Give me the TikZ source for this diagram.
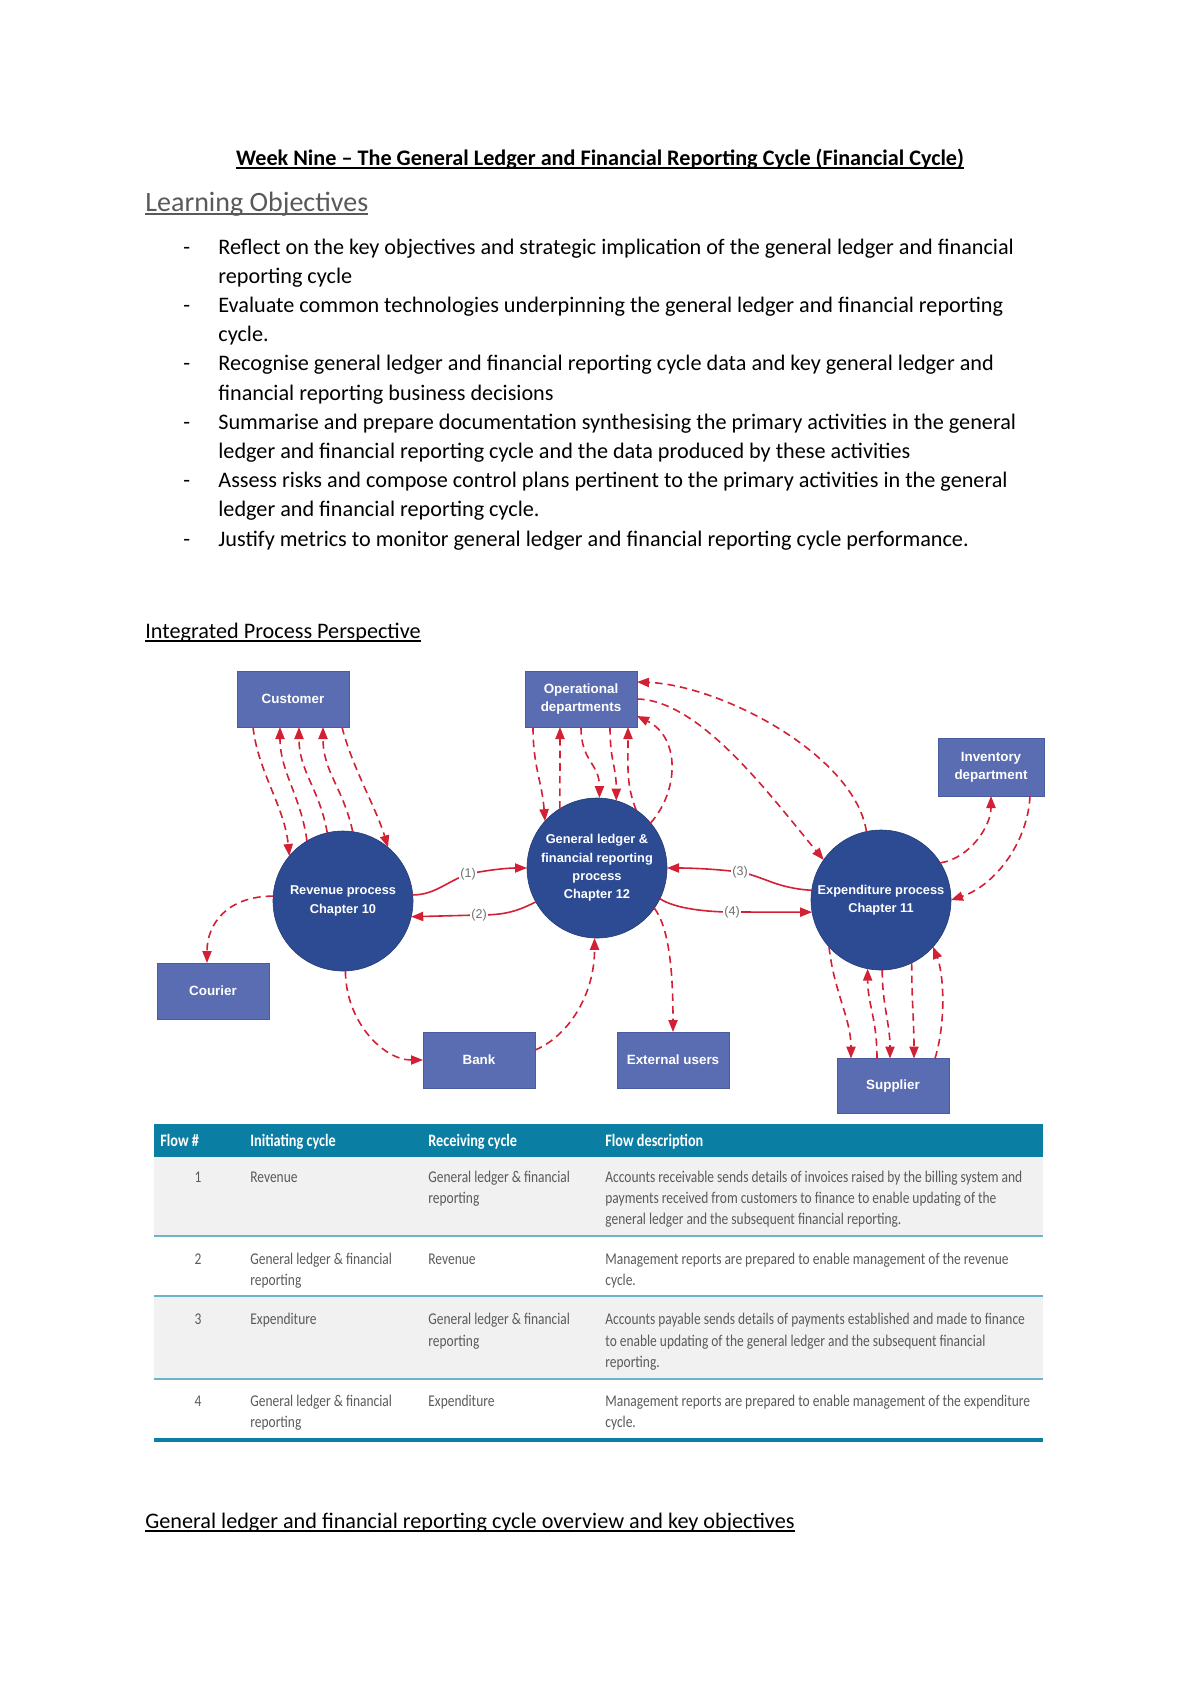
\documentclass[tikz,border=0pt]{standalone}
\usepackage{fontspec}
\setmainfont{Carlito}
\newfontfamily\arialfont{Liberation Sans}
\newfontfamily\tabfont[FakeStretch=0.82]{Carlito}
\usetikzlibrary{arrows.meta,calc}
\definecolor{boxfill}{HTML}{5B6DB2}
\definecolor{boxedge}{HTML}{4A5C9E}
\definecolor{circfill}{HTML}{2D4B92}
\definecolor{flowred}{HTML}{D42035}
\definecolor{hdrteal}{HTML}{0B7EA3}
\definecolor{rowgray}{HTML}{F1F1F1}
\definecolor{rowline}{HTML}{6FB3CB}
\definecolor{tabtext}{HTML}{5A5A5A}
\definecolor{headgray}{HTML}{595959}
\definecolor{labgray}{HTML}{707070}
\newcommand\myul[1]{\setbox0=\hbox{#1}\rlap{\rule[-1.8pt]{\wd0}{0.6pt}}\box0}
\tikzset{
  txt/.style={inner sep=0pt, anchor=base west, font=\fontsize{11.1pt}{13pt}\selectfont},
  tabt/.style={inner sep=0pt, anchor=base west, text=tabtext, font=\tabfont\fontsize{8.2pt}{10pt}\selectfont},
  tabh/.style={inner sep=0pt, anchor=base west, text=white, font=\tabfont\bfseries\fontsize{8.7pt}{10pt}\selectfont},
  box/.style={draw=boxedge, line width=0.4pt, fill=boxfill, minimum width=56pt, minimum height=28pt,
    inner sep=1pt, outer sep=0pt, text=white, align=center,
    font=\arialfont\bfseries\fontsize{6.7pt}{9.2pt}\selectfont},
  proc/.style={circle, fill=circfill, draw=circfill!80!black, line width=0.3pt, minimum size=70pt,
    inner sep=0pt, outer sep=0pt, text=white, align=center,
    font=\arialfont\bfseries\fontsize{6.4pt}{9.2pt}\selectfont},
  flow/.style={draw=flowred, line width=0.8pt, dash pattern=on 3.8pt off 2.5pt,
    -{Triangle[length=6pt,width=4.6pt]}},
  sflow/.style={draw=flowred, line width=0.8pt, -{Triangle[length=6pt,width=4.6pt]}},
  flab/.style={fill=white, inner sep=0.8pt, text=labgray, font=\arialfont\fontsize{6.3pt}{7pt}\selectfont},
}
\begin{document}
\begin{tikzpicture}[x=0.5pt,y=-0.5pt]
\fill[white] (0,0) rectangle (1200,1698);
\useasboundingbox (0,0) rectangle (1200,1698);

% ---------- header text ----------
\node[txt, anchor=base, font=\bfseries\fontsize{11.1pt}{13pt}\selectfont] (title) at (600,165)
  {\myul{Week Nine -- The General Ledger and Financial Reporting Cycle (Financial Cycle)}};
\node[txt, text=headgray, font=\fontsize{14pt}{16pt}\selectfont] (lo) at (145,211) {\myul{Learning Objectives}};

\node[txt] (d1) at (183,254) {-};
\node[txt] (b1a) at (218,254) {Reflect on the key objectives and strategic implication of the general ledger and financial};
\node[txt] (b1b) at (218,283.2) {reporting cycle};
\node[txt] (d2) at (183,312.4) {-};
\node[txt] (b2a) at (218,312.4) {Evaluate common technologies underpinning the general ledger and financial reporting};
\node[txt] (b2b) at (218,341.6) {cycle.};
\node[txt] (d3) at (183,370.8) {-};
\node[txt] (b3a) at (218,370.8) {Recognise general ledger and financial reporting cycle data and key general ledger and};
\node[txt] (b3b) at (218,400) {financial reporting business decisions};
\node[txt] (d4) at (183,429.2) {-};
\node[txt] (b4a) at (218,429.2) {Summarise and prepare documentation synthesising the primary activities in the general};
\node[txt] (b4b) at (218,458.4) {ledger and financial reporting cycle and the data produced by these activities};
\node[txt] (d5) at (183,487.6) {-};
\node[txt] (b5a) at (218,487.6) {Assess risks and compose control plans pertinent to the primary activities in the general};
\node[txt] (b5b) at (218,516.8) {ledger and financial reporting cycle.};
\node[txt] (d6) at (183,546) {-};
\node[txt] (b6a) at (218,546) {Justify metrics to monitor general ledger and financial reporting cycle performance.};

\node[txt] (ipp) at (145,638) {\myul{Integrated Process Perspective}};

% ---------- diagram nodes ----------
\node[box] (Cu) at (293,699) {Customer};
\node[box] (Op) at (581,699) {Operational\\departments};
\node[box, minimum width=53pt, minimum height=29pt] (Inv) at (991,767) {Inventory\\department};
\node[box] (Cour) at (213,991) {Courier};
\node[box] (Bank) at (479,1060) {Bank};
\node[box] (Ext) at (673,1060) {External users};
\node[box, minimum height=27.5pt] (Sup) at (893,1086) {Supplier};

\node[proc] (R) at (343,901) {Revenue process\\Chapter 10};
\node[proc] (G) at (597,868) {General ledger \&\\financial reporting\\process\\Chapter 12};
\node[proc] (X) at (881,900) {Expenditure process\\Chapter 11};

% Customer <-> Revenue
\draw[flow] ($(Cu.south west)+(16,0)$) .. controls +(5,45) and +(-5,-50) .. (R.140);
\draw[flow] (R.121) .. controls +(-6,-45) and +(0,45) .. ($(Cu.south west)+(43,0)$);
\draw[flow] (R.103) .. controls +(-8,-45) and +(0,45) .. ($(Cu.south west)+(62,0)$);
\draw[flow] (R.82) .. controls +(-10,-45) and +(0,45) .. ($(Cu.south west)+(86,0)$);
\draw[flow] ($(Cu.south west)+(105,0)$) .. controls +(10,40) and +(-12,-40) .. (R.50);

% Revenue -> Courier, Bank
\draw[flow] (R.176) .. controls +(-45,0) and +(0,-40) .. ($(Cour.north)+(-6,0)$);
\draw[flow] (R.-88) .. controls +(0,50) and +(-40,0) .. (Bank.west);
\draw[flow] (Bank.10) .. controls +(35,-15) and +(0,55) .. (G.268);

% Revenue <-> GL
\coordinate (l1) at (468,874);
\coordinate (l2) at (479,915);
\draw[sflow] (R.5) .. controls +(22,0) and +(-22,8) .. (l1) .. controls +(20,-4) and +(-20,0) .. (G.west);
\draw[sflow] (G.209) .. controls +(-20,10) and +(25,0) .. (l2) -- (R.-13);
\node[flab] (n1) at (l1) {(1)};
\node[flab] (n2) at (l2) {(2)};

% GL <-> Expenditure
\coordinate (l3) at (740,872);
\coordinate (l4) at (732,912);
\draw[sflow] (X.172) .. controls +(-35,-2) and +(25,5) .. (l3) .. controls +(-25,-3) and +(25,0) .. (G.east);
\draw[sflow] (G.-26) .. controls +(15,10) and +(-25,0) .. (l4) -- (X.190);
\node[flab] (n3) at (l3) {(3)};
\node[flab] (n4) at (l4) {(4)};

% GL -> External users
\draw[flow] (G.-35) .. controls +(15,20) and +(0,-60) .. (Ext.north);

% Operational <-> GL
\draw[flow] ($(Op.south west)+(8,0)$) .. controls +(0,40) and +(-3,-40) .. (G.138);
\draw[flow] (G.122) .. controls +(0,-30) and +(0,30) .. ($(Op.south west)+(35,0)$);
\draw[flow] ($(Op.south west)+(56,0)$) .. controls +(0,35) and +(0,-35) .. (G.88);
\draw[flow] ($(Op.south west)+(85,0)$) .. controls +(0,35) and +(0,-35) .. (G.74);
\draw[flow] (G.56) .. controls +(-10,-25) and +(0,40) .. ($(Op.south west)+(103,0)$);
\draw[flow] (G.40) .. controls +(29,-33) and +(43,21) .. ($(Op.east)+(0,17)$);

% Operational <-> Expenditure
\draw[flow] (X.102) .. controls +(-12,-77) and +(83,3) .. ($(Op.east)+(0,-17)$);
\draw[flow] (Op.east) .. controls +(63,1) and +(-54,-65) .. (X.145);

% Expenditure <-> Inventory
\draw[flow] (X.32) .. controls +(30,-5) and +(0,30) .. (Inv.south);
\draw[flow] ($(Inv.south east)+(-14,0)$) .. controls +(-2,45) and +(45,-15) .. (X.0);

% Expenditure <-> Supplier
\draw[flow] (X.222) .. controls +(5,45) and +(0,-40) .. ($(Sup.north west)+(14,0)$);
\draw[flow] ($(Sup.north west)+(40,0)$) .. controls +(0,-40) and +(0,35) .. (X.259);
\draw[flow] (X.271) .. controls +(0,35) and +(0,-35) .. ($(Sup.north west)+(53,0)$);
\draw[flow] (X.296) .. controls +(0,35) and +(0,-35) .. ($(Sup.north west)+(77,0)$);
\draw[flow] ($(Sup.north west)+(98,0)$) .. controls +(12,-40) and +(10,25) .. (X.318);

% ---------- table ----------
\fill[hdrteal] (154,1124) rectangle (1043,1157);
\fill[rowgray] (154,1157) rectangle (1043,1236);
\fill[rowgray] (154,1296) rectangle (1043,1379);
\draw[rowline, line width=1pt] (154,1236) -- (1043,1236);
\draw[rowline, line width=1pt] (154,1296) -- (1043,1296);
\draw[rowline, line width=1pt] (154,1379) -- (1043,1379);
\draw[hdrteal, line width=1.7pt] (154,1440) -- (1043,1440);

\node[tabh] (h1) at (160,1146) {Flow \#};
\node[tabh] (h2) at (250,1146) {Initiating cycle};
\node[tabh] (h3) at (428,1146) {Receiving cycle};
\node[tabh] (h4) at (605,1146) {Flow description};

\node[tabt, anchor=base] (r1a) at (198,1182) {1};
\node[tabt] (r1b) at (250,1182) {Revenue};
\node[tabt] (r1c) at (428,1182) {General ledger \& financial};
\node[tabt] (r1d) at (428,1203.5) {reporting};
\node[tabt] (r1e) at (605,1182) {Accounts receivable sends details of invoices raised by the billing system and};
\node[tabt] (r1f) at (605,1203.5) {payments received from customers to finance to enable updating of the};
\node[tabt] (r1g) at (605,1224.5) {general ledger and the subsequent financial reporting.};

\node[tabt, anchor=base] (r2a) at (198,1264) {2};
\node[tabt] (r2b) at (250,1264) {General ledger \& financial};
\node[tabt] (r2c) at (250,1285) {reporting};
\node[tabt] (r2d) at (428,1264) {Revenue};
\node[tabt] (r2e) at (605,1264) {Management reports are prepared to enable management of the revenue};
\node[tabt] (r2f) at (605,1285) {cycle.};

\node[tabt, anchor=base] (r3a) at (198,1324.5) {3};
\node[tabt] (r3b) at (250,1324.5) {Expenditure};
\node[tabt] (r3c) at (428,1324.5) {General ledger \& financial};
\node[tabt] (r3d) at (428,1346.5) {reporting};
\node[tabt] (r3e) at (605,1324.5) {Accounts payable sends details of payments established and made to finance};
\node[tabt] (r3f) at (605,1346.5) {to enable updating of the general ledger and the subsequent financial};
\node[tabt] (r3g) at (605,1367) {reporting.};

\node[tabt, anchor=base] (r4a) at (198,1406) {4};
\node[tabt] (r4b) at (250,1406) {General ledger \& financial};
\node[tabt] (r4c) at (250,1427) {reporting};
\node[tabt] (r4d) at (428,1406) {Expenditure};
\node[tabt] (r4e) at (605,1406) {Management reports are prepared to enable management of the expenditure};
\node[tabt] (r4f) at (605,1427) {cycle.};

\node[txt] (ovw) at (145,1528) {\myul{General ledger and financial reporting cycle overview and key objectives}};
\end{tikzpicture}
\end{document}
